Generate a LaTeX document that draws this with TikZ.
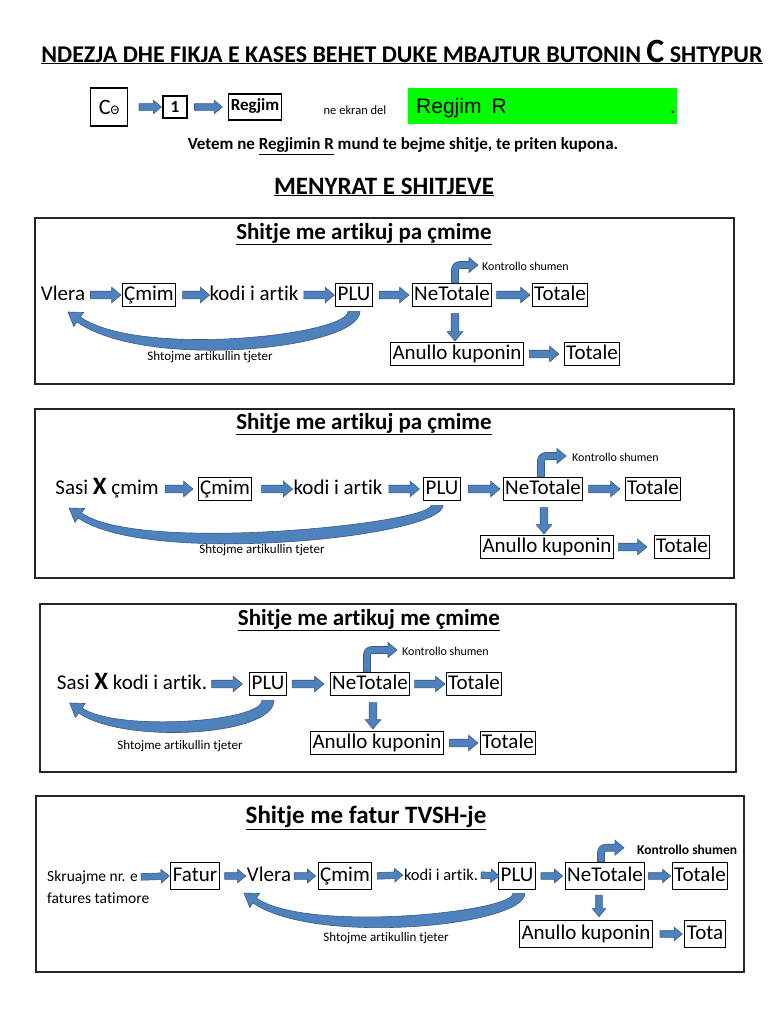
\documentclass[tikz,border=0pt]{standalone}
\usepackage{fontspec}
\setmainfont{Carlito}[Ligatures=NoCommon]
\newfontfamily\arialf{Liberation Sans}
\usetikzlibrary{shapes.arrows,calc}
\definecolor{ablue}{RGB}{79,129,189}
\definecolor{adark}{RGB}{56,93,138}
\definecolor{lgreen}{RGB}{0,255,0}
\newcommand\fs[1]{\fontsize{#1}{#1}\selectfont}
\tikzset{
 bx/.style={draw=black, line width=1.1pt, inner xsep=2pt, inner ysep=2pt, text height=15pt, text depth=4.5pt, font=\fs{21}},
 bxf/.style={bx, inner ysep=4pt},
 tx/.style={inner sep=1pt, text height=15pt, text depth=4.5pt, font=\fs{21}},
 barrow/.style={single arrow, draw=adark, fill=ablue, line width=0.6pt, text height=7pt, text depth=0pt, single arrow head extend=4pt, single arrow tip angle=80, inner sep=0pt, outer sep=0pt},
 sbarrow/.style={text height=6pt, single arrow head extend=3.5pt},
 uarr/.style={fill=ablue, draw=adark, line width=0.6pt},
 panel/.style={draw=black!85, line width=1.5pt},
 stitle/.style={font=\fs{23}\bfseries},
 smalltxt/.style={inner sep=1pt, font=\fs{12}},
 notetxt/.style={inner sep=1pt, font=\fs{13}},
}
% straight block arrow between two points
\newcommand\barr[3][]{\path let \p1=(#2), \p2=(#3), \n1={veclen(\x2-\x1,\y2-\y1)}, \n2={atan2(\y2-\y1,\x2-\x1)} in node[barrow, minimum height=\n1, rotate=\n2, #1] at ($(\p1)!0.5!(\p2)$) {};}
% bent arrow: up from #1 then right to tip #2
\newcommand\karr[2]{\path[uarr] let \p1=(#1), \p2=(#2) in
 ({\x1-3.5},{\y1}) [rounded corners=8pt] -- ({\x1-3.5},{\y2+3.5}) [sharp corners] -- ({\x2-9},{\y2+3.5}) -- ({\x2-9},{\y2+7.5}) -- (\p2) -- ({\x2-9},{\y2-7.5}) -- ({\x2-9},{\y2-3.5}) [rounded corners=2pt] -- ({\x1+3.5},{\y2-3.5}) [sharp corners] -- ({\x1+3.5},{\y1}) -- cycle;}
% curved return arrow: from #1 (start under PLU) to tip #2, #3 start depth, #4 end handle
\newcommand\uarrow[4]{\path[uarr] let \p1=(#1), \p2=(#2) in
 ({\x1+6},{\y1}) .. controls ({\x1+6},{\y1-#3}) and ({\x2+8.93+0.819*#4},{\y2-9.92-0.574*#4}) .. ({\x2+8.93},{\y2-9.92})
 -- ({\x2+5.77},{\y2-14.42}) -- (\p2) -- ({\x2+15.53},{\y2-0.5}) -- ({\x2+12.37},{\y2-5.0})
 .. controls ({\x2+12.37+0.819*(#4-14)},{\y2-5.0-0.574*(#4-14)}) and ({\x1-6},{\y1-#3+14}) .. ({\x1-6},{\y1}) -- cycle;}
\begin{document}
\begin{tikzpicture}[x=1pt,y=1pt]
\fill[white] (0,0) rectangle (768,-1024);
\useasboundingbox (0,0) rectangle (768,-1024);

% ---------- header ----------
\node[font=\fs{24}\bfseries, inner sep=0pt] (ttl) at (402,-52) {\underline{NDEZJA DHE FIKJA E KASES BEHET DUKE MBAJTUR BUTONIN {\fs{34}C} SHTYPUR}};
\node[draw, line width=1.1pt, minimum width=37pt, minimum height=38pt, inner sep=0pt, font=\fs{22}] (cb) at (109,-107) {C{\fs{13}Θ}};
\node[draw, line width=1.1pt, minimum width=24pt, minimum height=22pt, inner sep=0pt, font=\fs{17}\bfseries] (one) at (175,-107) {1};
\node[draw, line width=1.1pt, minimum height=26pt, inner xsep=2pt, inner ysep=0pt, text height=11pt, text depth=4pt, font=\fs{17}\bfseries] (rg) at (255,-107) {Regjim};
\barr[sbarrow]{$(cb.east)+(9,0)$}{$(one.west)+(-3,0)$}
\barr[sbarrow]{$(one.east)+(5,0)$}{$(rg.west)+(-8,0)$}
\node[font=\fs{12.5}, inner sep=0pt] (ek) at (355,-110) {ne ekran del};
\node[fill=lgreen, minimum width=269pt, minimum height=36pt, inner sep=0pt] (gr) at (542.5,-106) {};
\node[anchor=base west, font=\arialf\fs{21}, inner sep=0pt] (rgr) at (416,-114) {Regjim\hspace{10pt}R};
\node[anchor=base east, font=\arialf\fs{21}, inner sep=0pt] (dot) at (676,-114) {.};
\node[font=\fs{17}\bfseries, inner sep=0pt] (vet) at (403,-146) {Vetem ne \underline{Regjimin R} mund te bejme shitje, te priten kupona.};
\node[font=\fs{25}\bfseries, inner sep=0pt] (men) at (384,-187) {\underline{MENYRAT E SHITJEVE}};

% ---------- section 1 ----------
\draw[panel] (35,-218) rectangle (734,-384);
\node[stitle] (st1) at (364,-234) {\underline{Shitje me artikuj pa çmime}};
\node[tx] (v1) at (63,-295) {Vlera};
\node[bx] (c1) at (149,-295) {Çmim};
\node[tx] (k1) at (254,-295) {kodi i artik};
\node[bx] (p1) at (354,-295) {PLU};
\node[bx] (n1) at (452,-295) {NeTotale};
\node[bx] (t1) at (560,-295) {Totale};
\node[bx] (a1) at (457,-354) {Anullo kuponin};
\node[bx] (u1) at (592,-354) {Totale};
\node[smalltxt, anchor=west] (ks1) at (481,-266) {Kontrollo shumen};
\node[notetxt] (sh1) at (210,-357) {Shtojme artikullin tjeter};
\barr{$(v1.east)+(2,0)$}{$(c1.west)+(-3,0)$}
\barr{$(c1.east)+(4,0)$}{$(k1.west)+(-1,0)$}
\barr{$(k1.east)+(2,0)$}{$(p1.west)+(-3,0)$}
\barr{$(p1.east)+(4,0)$}{$(n1.west)+(-5,0)$}
\barr{$(n1.east)+(2,0)$}{$(t1.west)+(-4,0)$}
\barr{$(a1.east)+(3,0)$}{$(u1.west)+(-7,0)$}
\barr{$(n1.south)+(3,-4)$}{$(n1.south|-a1.north)+(3,3)$}
\karr{$(n1.north)+(3,0)$}{$(ks1.west)+(-3,1)$}
\uarrow{$(p1.south)+(0,-4)$}{$(v1.center)+(5,-17)$}{38}{85}

% ---------- section 2 ----------
\draw[panel] (35,-409) rectangle (734,-578);
\node[stitle] (st2) at (364,-424) {\underline{Shitje me artikuj pa çmime}};
\node[tx] (x2) at (107,-489) {Sasi {\bfseries\fs{25}X} çmim};
\node[bx] (c2) at (225,-489) {Çmim};
\node[tx] (k2) at (338,-489) {kodi i artik};
\node[bx] (p2) at (442,-489) {PLU};
\node[bx] (n2) at (543,-489) {NeTotale};
\node[bx] (t2) at (653,-489) {Totale};
\node[bx] (a2) at (547,-547) {Anullo kuponin};
\node[bx] (u2) at (682,-547) {Totale};
\node[smalltxt, anchor=west] (ks2) at (571,-457) {Kontrollo shumen};
\node[notetxt] (sh2) at (262,-550) {Shtojme artikullin tjeter};
\barr{$(x2.east)+(3,0)$}{$(c2.west)+(-7,0)$}
\barr{$(c2.east)+(7,0)$}{$(k2.west)+(-2,0)$}
\barr{$(k2.east)+(3,0)$}{$(p2.west)+(-6,0)$}
\barr{$(p2.east)+(5,0)$}{$(n2.west)+(-5,0)$}
\barr{$(n2.east)+(3,0)$}{$(t2.west)+(-7,0)$}
\barr{$(a2.east)+(2,0)$}{$(u2.west)+(-9,0)$}
\barr{$(n2.south)+(1,-4)$}{$(n2.south|-a2.north)+(1,3)$}
\karr{$(n2.north)+(-2,0)$}{$(ks2.west)+(-5,1)$}
\uarrow{$(p2.south)+(-5,-4)$}{$(x2.west)+(15,-19)$}{32}{85}

% ---------- section 3 ----------
\draw[panel] (40,-604) rectangle (736,-772);
\node[stitle] (st3) at (369,-620) {\underline{Shitje me artikuj me çmime}};
\node[tx] (x3) at (132,-684) {Sasi {\bfseries\fs{25}X} kodi i artik.};
\node[bx] (p3) at (268,-684) {PLU};
\node[bx] (n3) at (370,-684) {NeTotale};
\node[bx] (t3) at (474,-684) {Totale};
\node[bx] (a3) at (377,-743) {Anullo kuponin};
\node[bx] (u3) at (508,-743) {Totale};
\node[smalltxt, anchor=west] (ks3) at (401,-651) {Kontrollo shumen};
\node[notetxt] (sh3) at (180,-746) {Shtojme artikullin tjeter};
\barr{$(x3.east)+(1,0)$}{$(p3.west)+(-9,0)$}
\barr{$(p3.east)+(3,0)$}{$(n3.west)+(-8,0)$}
\barr{$(n3.east)+(2,0)$}{$(t3.west)+(-3,0)$}
\barr{$(a3.east)+(3,0)$}{$(u3.west)+(-4,0)$}
\barr{$(n3.south)+(3,-4)$}{$(n3.south|-a3.north)+(3,4)$}
\karr{$(n3.north)+(-3,0)$}{$(ks3.west)+(-4,1)$}
\uarrow{$(p3.south)+(0,-4)$}{$(x3.west)+(14,-19)$}{36}{55}

% ---------- section 4 ----------
\draw[panel] (36,-796) rectangle (744,-972);
\node[font=\fs{25}\bfseries] (st4) at (366,-818) {\underline{Shitje me fatur TVSH-je}};
\node[anchor=west, inner sep=0pt, font=\fs{15.5}] (sk) at (47,-877) {Skruajme nr. e};
\node[anchor=west, inner sep=0pt, font=\fs{15.5}] (ftt) at (47,-898) {fatures tatimore};
\node[bxf] (f4) at (195,-876) {Fatur};
\node[tx] (v4) at (269,-876) {Vlera};
\node[bxf] (c4) at (345,-876) {Çmim};
\node[inner sep=1pt, font=\fs{16.5}] (k4) at (441,-875) {kodi i artik.};
\node[bxf] (p4) at (517,-876) {PLU};
\node[bxf] (n4) at (605,-876) {NeTotale};
\node[bxf] (t4) at (700,-876) {Totale};
\node[bxf] (a4) at (586,-934) {Anullo kuponin};
\node[bxf] (u4) at (705,-934) {Tota};
\node[anchor=west, inner sep=0pt, font=\fs{13.5}\bfseries] (ks4) at (637,-850) {Kontrollo shumen};
\node[notetxt] (sh4) at (386,-938) {Shtojme artikullin tjeter};
\barr[sbarrow]{$(sk.east)+(1,0)$}{$(f4.west)+(-3,0)$}
\barr[sbarrow]{$(f4.east)+(3,0)$}{$(v4.west)+(-2,0)$}
\barr[sbarrow]{$(v4.east)+(0,0)$}{$(c4.west)+(-4,0)$}
\barr[sbarrow]{$(c4.east)+(3,0)$}{$(k4.west)+(-2,0)$}
\barr[sbarrow]{$(k4.east)+(0,0)$}{$(p4.west)+(-1,0)$}
\barr[sbarrow]{$(p4.east)+(3,0)$}{$(n4.west)+(-4,0)$}
\barr[sbarrow]{$(n4.east)+(1,0)$}{$(t4.west)+(-3,0)$}
\barr[sbarrow]{$(a4.east)+(5,0)$}{$(u4.west)+(-4,0)$}
\barr[sbarrow]{$(n4.south)+(-6,-3)$}{$(n4.south|-a4.north)+(-6,5)$}
\karr{$(n4.north)+(-4,0)$}{$(n4.north)+(19,14)$}
\uarrow{$(p4.south)+(2,-3)$}{$(v4.center)+(-25,-17)$}{33}{75}
\end{tikzpicture}
\end{document}
